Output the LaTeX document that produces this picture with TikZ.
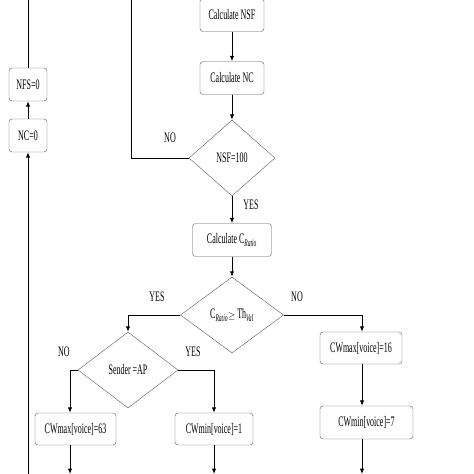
\documentclass[tikz,border=0pt]{standalone}
\usepackage{fontspec}
\setmainfont[FakeStretch=0.55]{Liberation Serif}
\usepackage{tikz}
\usetikzlibrary{positioning, arrows.meta, shapes.geometric, calc}

\begin{document}
\begin{tikzpicture}[
			x=1pt, y=-1pt,
			font=\fontsize{14.5}{16}\selectfont,
			box/.style={rectangle, draw=black!65, rounded corners=3pt, minimum height=33pt, inner sep=2pt, align=center, text=black},
			decision/.style={diamond, draw=black!65, inner sep=0pt, align=center, text=black},
			arrow/.style={-{Latex[length=5.5pt,width=4.5pt]}, line width=1pt},
			line/.style={line width=1pt},
			lbl/.style={text=black}
			]
			\useasboundingbox (0,0) rectangle (474,474);
			\clip (0,0) rectangle (474,474);
			% Main column
			\node (nsfcalc) [box, minimum width=64pt] at (232,15) {Calculate NSF};
			\node (nccalc) [box, minimum width=64pt] at (232,78) {Calculate NC};
			\node (nsfcheck) [decision, minimum width=86pt, minimum height=76pt] at (232,158) {NSF=100};
			\node (ratiocalc) [box, minimum width=79pt] at (232,240) {Calculate C\textsubscript{\textit{Ratio}}};
			\node (ratiocheck) [decision, minimum width=103pt, minimum height=76pt] at (232,315) {C\textsubscript{\textit{Ratio}}{\small$\geq$} Th\textsubscript{\textit{Val}}};
			
			% Voice branches
			\node (sendercheck) [decision, minimum width=100pt, minimum height=76pt] at (128,370) {Sender =AP};
			\node (cwmaxap) [box, minimum width=81pt, minimum height=32pt] at (75.5,429) {CWmax[voice]=63};
			\node (cwminap) [box, minimum width=78pt, minimum height=32pt] at (214,429) {CWmin[voice]=1};
			\node (cwmaxsta) [box, minimum width=82pt, minimum height=32pt] at (361,348) {CWmax[voice]=16};
			\node (cwminsta) [box, minimum width=93pt] at (366.5,422.5) {CWmin[voice]=7};
			
			% Reset column
			\node (nfsreset) [box, minimum width=38pt] at (28,84.5) {NFS=0};
			\node (ncreset) [box, minimum width=38pt] at (28,135.5) {NC=0};
			
			% Free ends
			\coordinate (looptop) at (131,0);
			\coordinate (resettop) at (28,0);
			\coordinate (resetbottom) at (28,474);
			\coordinate (outap) at (70,474);
			\coordinate (outmin) at (214,474);
			\coordinate (outsta) at (362,474);
			
			% Labels
			\node [lbl] at (170,138) {NO};
			\node [lbl] at (251,205) {YES};
			\node [lbl] at (157,297) {YES};
			\node [lbl] at (297,297) {NO};
			\node [lbl] at (64,352) {NO};
			\node [lbl] at (193,352) {YES};
			
			% Arrows main column
			\draw [arrow] (nsfcalc) -- (nccalc);
			\draw [arrow] (nccalc) -- (nsfcheck);
			\draw [line] (nsfcheck.west) -| (looptop);
			\draw [arrow] (nsfcheck) -- (ratiocalc);
			\draw [arrow] (ratiocalc) -- (ratiocheck);
			
			% Arrows branches
			\draw [arrow] (ratiocheck.west) -| (sendercheck.north);
			\draw [arrow] (ratiocheck.east) -| ([xshift=1pt]cwmaxsta.north);
			\draw [arrow] ([xshift=1pt]cwmaxsta.south) -- ([xshift=1pt]cwmaxsta.south |- cwminsta.north);
			\draw [arrow] (sendercheck.west) -| ([xshift=-5.5pt]cwmaxap.north);
			\draw [arrow] (sendercheck.east) -| (cwminap.north);
			\draw [arrow] ([xshift=-5.5pt]cwmaxap.south) -- (outap);
			\draw [arrow] (cwminap) -- (outmin);
			\draw [arrow] ([xshift=-4.5pt]cwminsta.south) -- (outsta);
			
			% Arrows reset column
			\draw [arrow] (resetbottom) -- (ncreset);
			\draw [arrow] (ncreset) -- (nfsreset);
			\draw [line] (nfsreset) -- (resettop);
		\end{tikzpicture}
\end{document}
